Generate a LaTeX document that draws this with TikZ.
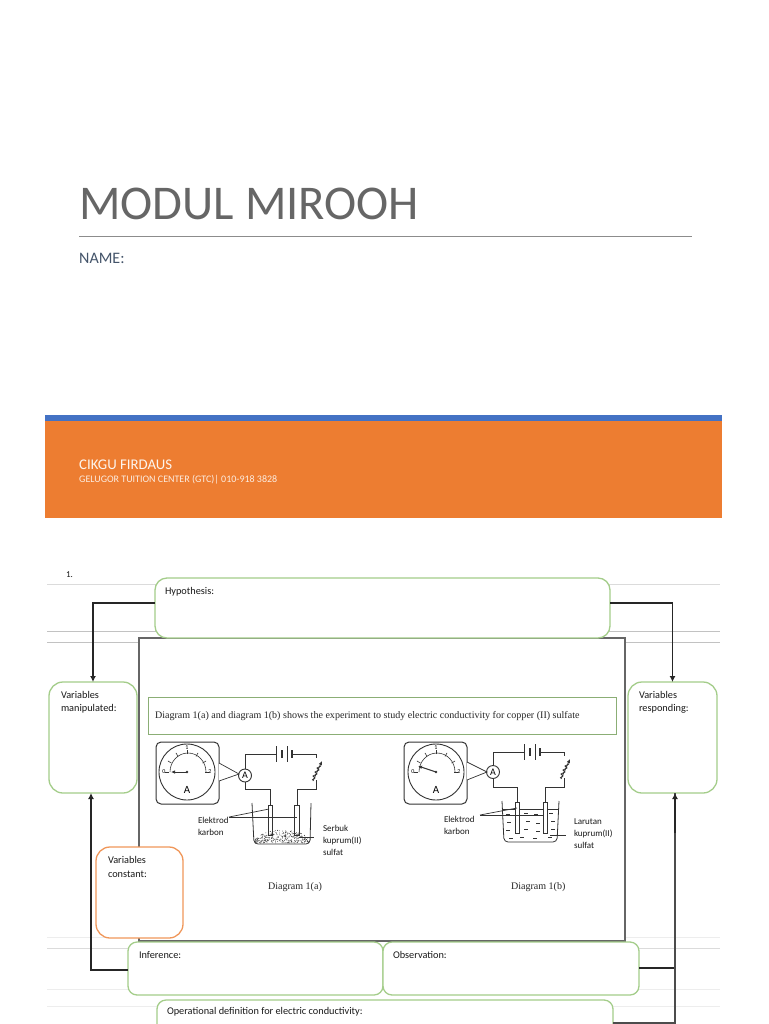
\documentclass[tikz,border=0pt]{standalone}
\usepackage{fontspec}
\setmainfont{Carlito}
\newfontfamily\serifface{Liberation Serif}
\usetikzlibrary{arrows.meta,calc}
\definecolor{boxgreen}{HTML}{A4CD8A}
\definecolor{boxorange}{HTML}{F0975A}
\definecolor{bandblue}{HTML}{4472C4}
\definecolor{bandorange}{HTML}{ED7D31}
\definecolor{slate}{HTML}{44546A}
\definecolor{titlegray}{HTML}{666666}
\definecolor{inkgray}{HTML}{333333}
\tikzset{
  box/.style={draw=boxgreen,line width=1.3pt,fill=white,rounded corners=#1,inner sep=0pt,outer sep=0pt},
  box/.default=12pt,
  obox/.style={box=14pt,draw=boxorange},
  plainbox/.style={draw=boxgreen!85!black,line width=1pt,fill=white,inner sep=0pt,outer sep=0pt},
  txt/.style={anchor=base west,inner sep=0pt,outer sep=0pt,font=\fontsize{10.3}{12}\selectfont,text=black!90},
  smalltxt/.style={anchor=base west,inner sep=0pt,outer sep=0pt,font=\fontsize{9}{11}\selectfont,text=black!90},
  serif/.style={anchor=base west,inner sep=0pt,outer sep=0pt,font=\serifface\fontsize{10.05}{12}\selectfont,text=black!85},
  conn/.style={draw=black!85,line width=1.2pt},
  arr/.style={conn,-{Latex[length=6pt,width=6pt]}},
  wire/.style={draw=inkgray,line width=.7pt},
  rulea/.style={draw=black!14,line width=.8pt},
  ruleb/.style={draw=black!24,line width=.6pt},
  rulec/.style={draw=black!7,line width=.6pt},
}
\newcommand{\bx}[6]{\node[#1,minimum width={(#5-#3)*1pt},minimum height={(#6-#4)*1pt}] (#2) at ({(#3+#5)/2},{(#4+#6)/2}) {};}
\newcommand{\gauge}[5]{% cx cy needlex needley bx-left
  \draw[wire,line width=1pt,rounded corners=5pt] (#5,742) rectangle ++(63,62);
  \draw[wire,line width=.9pt] (#1,#2) circle[radius=28pt];
  \draw[wire,line width=.6pt] (#1-17,#2) arc[start angle=180,end angle=0,radius=18pt,y radius=19pt];
  \foreach \a in {0,30,60,90,120,150,180}{
    \draw[wire,line width=.6pt] ({#1+18*cos(\a)},{#2-18*sin(\a)}) -- ({#1+22*cos(\a)},{#2-22*sin(\a)});
  }
  \draw[wire,line width=1pt,-{Latex[length=4pt,width=3.5pt]}] (#1,#2) -- (#3,#4);
  \fill[inkgray] (#1,#2) circle[radius=1.3pt];
  \node[inner sep=0pt,font=\fontsize{6}{6}\selectfont] (g0#5) at (#1-23,#2) {0};
  \node[inner sep=0pt,font=\fontsize{6}{6}\selectfont] (g1#5) at (#1,#2-24) {1};
  \node[inner sep=0pt,font=\fontsize{6}{6}\selectfont] (g2#5) at (#1+23,#2) {2};
  \node[inner sep=0pt,font=\fontsize{11}{11}\selectfont] (gA#5) at (#1,#2+18) {A};
}
\newcommand{\battery}[2]{% x-left, y
  \draw[wire,line width=.9pt] (#1,#2-8) -- (#1,#2+8);
  \draw[wire,line width=1.1pt] (#1+6,#2-4) -- (#1+6,#2+4);
  \draw[wire,line width=.9pt] (#1+11,#2-8) -- (#1+11,#2+8);
  \draw[wire,line width=1.1pt] (#1+16,#2-4) -- (#1+16,#2+4);
}
\newcommand{\rheostat}[2]{% x, ymid
  \draw[wire,line width=.8pt] (#1-4,#2+10) -- (#1-1,#2+8) -- (#1-3,#2+6) -- (#1+1,#2+4) -- (#1-1,#2+2) -- (#1+3,#2) -- (#1+1,#2-2) -- (#1+5,#2-4);
  \draw[wire,line width=.8pt,-{Latex[length=4pt,width=3.5pt]}] (#1-3,#2+11) -- (#1+6,#2-9);
}
\begin{document}
\begin{tikzpicture}[x=1pt,y=-1pt]
\useasboundingbox (0,0) rectangle (768,1024);
\clip (0,0) rectangle (768,1024);
\fill[white] (0,0) rectangle (768,1024);

% cover page
\node[anchor=base west,inner sep=0pt,text=titlegray,font=\fontsize{48.5}{50}\selectfont] (title) at (79,220) {MODUL MIROOH};
\draw[draw=black!45,line width=.7pt] (79,236) -- (692,236);
\node[anchor=base west,inner sep=0pt,text=slate,font=\fontsize{16}{18}\selectfont] (name) at (79,263) {NAME:};
\fill[bandblue] (45,415) rectangle (722,421);
\fill[bandorange] (45,421) rectangle (722,518);
\node[anchor=base west,inner sep=0pt,text=white!92!bandorange,font=\fontsize{14.8}{16}\selectfont] (author) at (79,469) {CIKGU FIRDAUS};
\node[anchor=base west,inner sep=0pt,text=white!85!bandorange,font=\fontsize{10}{12}\selectfont] (centre) at (79,482) {GELUGOR TUITION CENTER (GTC)| 010-918 3828};

% faint ruled lines
\draw[rulea] (47,584.5) -- (720,584.5);
\draw[ruleb] (47,631) -- (720,631);
\draw[ruleb] (47,642) -- (720,642);
\draw[rulec] (47,937) -- (720,937);
\draw[rulea] (47,948.5) -- (720,948.5);
\draw[rulec] (47,989.5) -- (720,989.5);
\draw[rulec] (47,1006.5) -- (720,1006.5);

\node[smalltxt] (num) at (66,577) {1.};

% frame
\draw[draw=black!60,line width=1.3pt,fill=white] (139,638) rectangle (625,941);
\bx{plainbox}{stem}{148}{697}{616}{734}
\node[serif] (stemtext) at (155,718) {Diagram 1(a) and diagram 1(b) shows the experiment to study electric conductivity for copper (II) sulfate};

% Diagram 1(a)
\gauge{187}{772}{171}{772}{156}
\draw[wire,fill=white] (219,763) -- (239,774) -- (219,781);
\node[draw=inkgray,line width=.9pt,circle,minimum size=13pt,inner sep=0pt,font=\fontsize{10}{10}\selectfont] (ama) at (245,775.5) {A};
\draw[wire] (ama.north) |- (276,754);
\battery{276}{754}
\draw[wire] (292,754) -- (316,754) -- (316,758);
\rheostat{316}{770}
\draw[wire] (316,780) -- (316,789) -- (297,789) -- (297,805);
\draw[wire] (ama.south) |- (270,789) -- (270,805);
\draw[wire,line width=.8pt,rounded corners=4pt] (252,803) -- (254,844) -- (310,844) -- (311,803);
\draw[wire,fill=white] (268,805) rectangle (272,835);
\draw[wire,fill=white] (294,805) rectangle (299,835);
\pgfmathsetseed{11}
\foreach \i in {1,...,320}{
  \pgfmathsetmacro\px{255+54*rnd}
  \pgfmathsetmacro\ph{13*sqrt(max(0,1-((\px-282)/28)^2))}
  \pgfmathsetmacro\py{843-\ph*rnd}
  \fill[inkgray] (\px,\py) circle[radius=.42pt];
}
\draw[wire] (229,817) -- (269,809);
\draw[wire] (229,817) -- (297,817);
\draw[wire] (299,837) -- (314,837);
\node[smalltxt] (ela1) at (198,823) {Elektrod};
\node[smalltxt] (ela2) at (198,835) {karbon};
\node[smalltxt] (sa1) at (323,831) {Serbuk};
\node[smalltxt] (sa2) at (323,843) {kuprum(II)};
\node[smalltxt] (sa3) at (323,855) {sulfat};
\node[serif] (capa) at (268,889) {Diagram 1(a)};

% Diagram 1(b)
\gauge{436}{772}{418}{766}{404}
\draw[wire,fill=white] (467,762) -- (487,772) -- (467,780);
\node[draw=inkgray,line width=.9pt,circle,minimum size=13pt,inner sep=0pt,font=\fontsize{10}{10}\selectfont] (amb) at (493,772) {A};
\draw[wire] (amb.north) |- (524,752);
\battery{524}{752}
\draw[wire] (540,752) -- (564,752) -- (564,756);
\rheostat{564}{768}
\draw[wire] (564,778) -- (564,787) -- (545,787) -- (545,802);
\draw[wire] (amb.south) |- (517,787) -- (517,802);
\draw[wire,line width=.8pt] (503,809) -- (558,809);
\draw[wire,line width=.8pt,rounded corners=4pt] (502,801) -- (504,842) -- (557,842) -- (559,801);
\foreach \dx/\dy in {506/814,524/813,534/814,549/813,507/822,526/821,536/823,551/821,506/830,524/829,536/831,551/829,509/838,520/837,533/838,548/837}{
  \draw[wire,line width=.5pt] (\dx,\dy) -- +(3.5,0);
}
\draw[wire,fill=white] (515,802) rectangle (519,833);
\draw[wire,fill=white] (543,802) rectangle (547,833);
\draw[wire] (480,815) -- (517,808);
\draw[wire] (480,815) -- (543,815);
\draw[wire] (550,835) -- (566,835);
\node[smalltxt] (elb1) at (444,822) {Elektrod};
\node[smalltxt] (elb2) at (444,834) {karbon};
\node[smalltxt] (lb1) at (574,824) {Larutan};
\node[smalltxt] (lb2) at (574,836) {kuprum(II)};
\node[smalltxt] (lb3) at (574,848) {sulfat};
\node[serif] (capb) at (511,889) {Diagram 1(b)};

% concept boxes
\bx{box}{hyp}{155}{578}{610}{638}
\bx{box=14pt}{manip}{49}{682}{137}{793}
\bx{box=14pt}{resp}{628}{682}{717}{793}
\bx{obox}{const}{96}{847}{183}{938}
\bx{box=9pt}{inf}{128}{942}{383}{995}
\bx{box=9pt}{obs}{383}{942}{639}{995}
\bx{box=9pt}{opdef}{157}{1000}{613}{1060}

\node[txt] (t1) at (165,594) {Hypothesis:};
\node[txt] (t2) at (61,698) {Variables};
\node[txt] (t3) at (61,711) {manipulated:};
\node[txt] (t4) at (639,698) {Variables};
\node[txt] (t5) at (639,711) {responding:};
\node[txt] (t6) at (108,863) {Variables};
\node[txt] (t7) at (108,877) {constant:};
\node[txt] (t8) at (139,958) {Inference:};
\node[txt] (t9) at (393,958) {Observation:};
\node[txt] (t10) at (167,1014) {Operational definition for electric conductivity:};

% connectors
\coordinate (opj) at (613,1023);
\coordinate (lft) at ([xshift=-2pt]manip.south);
\coordinate (rgt) at ([xshift=2.5pt]resp.south);
\draw[arr] ([yshift=5pt]hyp.west) -| (manip.north);
\draw[arr] ([yshift=5pt]hyp.east) -| (resp.north);
\draw[arr] ([yshift=-1.5pt]inf.west) -| (lft);
\draw[conn] ([yshift=.5pt]obs.east) -- ([yshift=.5pt]obs.east -| rgt);
\draw[conn,draw=black!70] (opj) -| (rgt);
\draw[arr] ($(rgt)+(0,40)$) -- (rgt);
\end{tikzpicture}
\end{document}
